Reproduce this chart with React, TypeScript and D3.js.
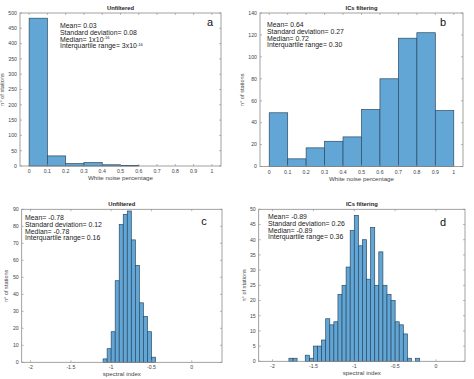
import React from "react";
import * as d3 from "d3";

// ---------- data ----------
const wnEdges = [0, 0.1, 0.2, 0.3, 0.4, 0.5, 0.6, 0.7, 0.8, 0.9, 1.0];
const wnUnfiltered = [483, 33, 8, 11, 4, 2, 0, 0, 0, 0];
const wnICs = [49, 7, 17, 23, 27, 52, 80, 117, 122, 51];

const siEdgesUnf = [-1.1, -1.05, -1.0, -0.95, -0.9, -0.85, -0.8, -0.75, -0.7, -0.65, -0.6, -0.55, -0.5, -0.45];
const siUnfiltered = [2, 8, 18, 48, 81, 87, 89, 72, 57, 35, 27, 18, 3];

const siEdgesICs = [
  -1.8, -1.75, -1.7, -1.65, -1.6, -1.55, -1.5, -1.45, -1.4, -1.35, -1.3, -1.25, -1.2, -1.15, -1.1, -1.05, -1.0,
  -0.95, -0.9, -0.85, -0.8, -0.75, -0.7, -0.65, -0.6, -0.55, -0.5, -0.45, -0.4, -0.35, -0.3, -0.25, -0.2,
];
const siICs = [1, 1, 0, 0, 2, 1, 5, 5, 7, 14, 12, 13, 22, 25, 31, 43, 48, 38, 40, 27, 44, 25, 36, 25, 22, 20, 13, 12, 9, 1, 0, 1];

const wnTicks = [0, 0.1, 0.2, 0.3, 0.4, 0.5, 0.6, 0.7, 0.8, 0.9, 1];
const siTicks = [-2, -1.5, -1, -0.5, 0];
const yTicksA = [0, 50, 100, 150, 200, 250, 300, 350, 400, 450, 500];
const yTicksB = [0, 20, 40, 60, 80, 100, 120, 140];
const yTicksC = [0, 10, 20, 30, 40, 50, 60, 70, 80, 90];
const yTicksD = [0, 5, 10, 15, 20, 25, 30, 35, 40, 45, 50];

type Line = { text: string; sup?: string };
const statsA: Line[] = [
  { text: "Mean= 0.03" },
  { text: "Standard deviation= 0.08" },
  { text: "Median= 1x10", sup: "-16" },
  { text: "Interquartile range= 3x10", sup: "-16" },
];
const statsB: Line[] = [
  { text: "Mean= 0.64" },
  { text: "Standard deviation= 0.27" },
  { text: "Median= 0.72" },
  { text: "Interquartile range= 0.30" },
];
const statsC: Line[] = [
  { text: "Mean= -0.78" },
  { text: "Standard deviation= 0.12" },
  { text: "Median= -0.78" },
  { text: "Interquartile range= 0.16" },
];
const statsD: Line[] = [
  { text: "Mean= -0.89" },
  { text: "Standard deviation= 0.26" },
  { text: "Median= -0.89" },
  { text: "Interquartile range= 0.36" },
];

const FONT = "'Liberation Sans', Arial, Helvetica, sans-serif";
const AXIS = "#8a8a8a";
const TXT = "#444";
const BAR = "#62a6d6";
const EDGE = "#2b4a63";

type PanelProps = {
  box: { l: number; r: number; t: number; b: number };
  xDomain: [number, number];
  yMax: number;
  edges: number[];
  counts: number[];
  xTicks: number[];
  yTicks: number[];
  title: string;
  xLabel: string;
  stats: Line[];
  statsX: number;
  statsY: number;
  letter: string;
  letterX: number;
  letterY: number;
  yLabelX: number;
};

function Panel(p: PanelProps) {
  const x = d3.scaleLinear().domain(p.xDomain).range([p.box.l, p.box.r]);
  const y = d3.scaleLinear().domain([0, p.yMax]).range([p.box.b, p.box.t]);
  const tl = 2;
  const cx = (p.box.l + p.box.r) / 2;
  const cy = (p.box.t + p.box.b) / 2;
  return (
    <g fontFamily={FONT}>
      <rect x={p.box.l} y={p.box.t} width={p.box.r - p.box.l} height={p.box.b - p.box.t} fill="white" />
      {p.counts.map((c, i) =>
        c > 0 ? (
          <rect
            key={i}
            x={x(p.edges[i])}
            y={y(c)}
            width={x(p.edges[i + 1]) - x(p.edges[i])}
            height={y(0) - y(c)}
            fill={BAR}
            stroke={EDGE}
            strokeWidth={0.7}
          />
        ) : null
      )}
      {/* box */}
      <rect x={p.box.l} y={p.box.t} width={p.box.r - p.box.l} height={p.box.b - p.box.t} fill="none" stroke={AXIS} strokeWidth={0.8} />
      {p.xTicks.map((t) => (
        <g key={"x" + t}>
          <line x1={x(t)} x2={x(t)} y1={p.box.b} y2={p.box.b - tl} stroke={AXIS} strokeWidth={0.6} />
          <line x1={x(t)} x2={x(t)} y1={p.box.t} y2={p.box.t + tl} stroke={AXIS} strokeWidth={0.6} />
          <text x={x(t)} y={p.box.b + 7} fontSize={5.2} fill={TXT} textAnchor="middle">
            {String(t)}
          </text>
        </g>
      ))}
      {p.yTicks.map((t) => (
        <g key={"y" + t}>
          <line x1={p.box.l} x2={p.box.l + tl} y1={y(t)} y2={y(t)} stroke={AXIS} strokeWidth={0.6} />
          <line x1={p.box.r} x2={p.box.r - tl} y1={y(t)} y2={y(t)} stroke={AXIS} strokeWidth={0.6} />
          <text x={p.box.l - 3} y={y(t) + 1.8} fontSize={5.2} fill={TXT} textAnchor="end">
            {String(t)}
          </text>
        </g>
      ))}
      <text x={cx} y={p.box.t - 3} fontSize={5.8} fontWeight="bold" fill="#222" textAnchor="middle">
        {p.title}
      </text>
      <text x={cx} y={p.box.b + 14} fontSize={6.2} fill={TXT} textAnchor="middle">
        {p.xLabel}
      </text>
      <text
        transform={`translate(${p.yLabelX},${cy}) rotate(-90)`}
        fontSize={5.6}
        fill={TXT}
        textAnchor="middle"
      >
        n° of stations
      </text>
      {p.stats.map((s, i) => (
        <text key={i} x={p.statsX} y={p.statsY + i * 6.8} fontSize={6.9} fill="#222">
          {s.text}
          {s.sup ? (
            <tspan dy={-2.6} fontSize={4.2}>
              {s.sup}
            </tspan>
          ) : null}
        </text>
      ))}
      <text x={p.letterX} y={p.letterY} fontSize={11} fill="#111" textAnchor="middle">
        {p.letter}
      </text>
    </g>
  );
}

export default function App() {
  return (
    <svg
      width={474}
      height={379}
      style={{ position: "absolute", left: 0, top: 0, background: "white" }}
    >
      <rect width={474} height={379} fill="white" />
      <Panel
        box={{ l: 20, r: 221, t: 13, b: 166 }}
        xDomain={[-0.05, 1.05]}
        yMax={500}
        edges={wnEdges}
        counts={wnUnfiltered}
        xTicks={wnTicks}
        yTicks={yTicksA}
        title="Unfiltered"
        xLabel="White noise percentage"
        stats={statsA}
        statsX={60}
        statsY={28}
        letter="a"
        letterX={210}
        letterY={26}
        yLabelX={4}
      />
      <Panel
        box={{ l: 260, r: 463, t: 13, b: 166.5 }}
        xDomain={[-0.05, 1.05]}
        yMax={140}
        edges={wnEdges}
        counts={wnICs}
        xTicks={wnTicks}
        yTicks={yTicksB}
        title="ICs filtering"
        xLabel="White noise percentage"
        stats={statsB}
        statsX={267}
        statsY={27}
        letter="b"
        letterX={443}
        letterY={26}
        yLabelX={244}
      />
      <Panel
        box={{ l: 21.7, r: 222, t: 209.3, b: 362.3 }}
        xDomain={[-2.11, 0.375]}
        yMax={90}
        edges={siEdgesUnf}
        counts={siUnfiltered}
        xTicks={siTicks}
        yTicks={yTicksC}
        title="Unfiltered"
        xLabel="spectral index"
        stats={statsC}
        statsX={25}
        statsY={220}
        letter="c"
        letterX={204}
        letterY={225}
        yLabelX={8}
      />
      <Panel
        box={{ l: 258.7, r: 465, t: 209.3, b: 361.3 }}
        xDomain={[-2.17, 0.355]}
        yMax={50}
        edges={siEdgesICs}
        counts={siICs}
        xTicks={siTicks}
        yTicks={yTicksD}
        title="ICs filtering"
        xLabel="spectral index"
        stats={statsD}
        statsX={268}
        statsY={219}
        letter="d"
        letterX={443}
        letterY={226}
        yLabelX={246}
      />
    </svg>
  );
}
